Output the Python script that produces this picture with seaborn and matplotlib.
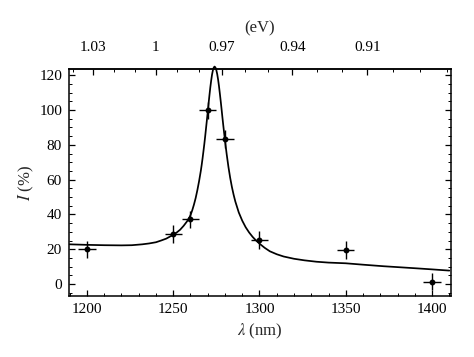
import numpy as np
import pandas as pd
import matplotlib
matplotlib.use("Agg")
import matplotlib.pyplot as plt
from matplotlib.ticker import MultipleLocator, FixedLocator
import seaborn as sns

# measured points
wavelength = [1200, 1250, 1260, 1270, 1280, 1300, 1350, 1400]
intensity = [20.0, 28.7, 37.2, 99.8, 83.3, 25.2, 19.5, 1.4]
x_err = [5, 5, 5, 5, 5, 5, 5, 5]
y_err = [5, 5, 5, 5, 5, 5, 5, 5]

# fitted curve
curve_x = [1190, 1200, 1210, 1220, 1226, 1232, 1236, 1240, 1243, 1246, 1250,
           1252, 1254, 1256, 1258, 1259, 1260, 1261, 1262, 1263, 1264, 1265,
           1266, 1266.5, 1267, 1267.5, 1268, 1268.5, 1269, 1269.5, 1270,
           1270.5, 1271, 1271.5, 1272, 1272.5, 1273, 1273.5, 1274, 1274.5,
           1275, 1275.5, 1276, 1276.5, 1277, 1277.5, 1278, 1278.5, 1279,
           1279.5, 1280, 1281, 1282, 1283, 1284, 1285, 1286, 1288, 1290,
           1292, 1294, 1296, 1298, 1300, 1303, 1306, 1310, 1314, 1320, 1326,
           1333, 1340, 1350, 1360, 1372, 1380, 1391, 1400, 1410]
curve_y = [22.8, 22.5, 22.3, 22.2, 22.3, 22.8, 23.3, 24.0, 25.0, 26.1, 28.3,
           29.6, 31.2, 33.4, 36.0, 37.6, 39.5, 42.3, 45.6, 49.4, 54.0, 59.2,
           65.1, 68.5, 72.2, 76.2, 80.3, 84.7, 89.4, 94.1, 99.0,
           103.9, 108.6, 113.1, 117.0, 120.4, 122.9, 124.5, 125.0, 124.4,
           122.9, 120.6, 117.6, 113.9, 109.7, 105.3, 100.7, 95.9, 91.3,
           86.9, 82.4, 74.5, 67.3, 61.1, 55.8, 51.3, 47.4, 41.1, 36.4,
           32.6, 29.6, 27.1, 25.0, 23.2, 20.8, 18.8, 17.1, 15.8, 14.5, 13.6,
           12.8, 12.3, 11.9, 11.1, 10.2, 9.7, 9.0, 8.4, 7.7]

# top axis tick labels (eV)
ev_ticks = [1.03, 1.0, 0.97, 0.94, 0.91]
ev_labels = ["1.03", "1", "0.97", "0.94", "0.91"]

sns.set_theme(style="ticks")
plt.rcParams["font.family"] = ["Liberation Serif", "DejaVu Serif"]
plt.rcParams["mathtext.fontset"] = "stix"

fig = plt.figure(figsize=(4.74, 3.57), dpi=100)
ax = fig.add_axes([0.1456, 0.1709, 0.8059, 0.6358])

curve = pd.DataFrame({"x": curve_x, "y": curve_y})
pts = pd.DataFrame({"x": wavelength, "y": intensity})

sns.lineplot(data=curve, x="x", y="y", ax=ax, color="black", lw=1.25,
             clip_on=False, zorder=3, sort=False)
ax.errorbar(wavelength, intensity, xerr=x_err, yerr=y_err, fmt="none",
            ecolor="black", elinewidth=1.0, capsize=0, zorder=4)
sns.scatterplot(data=pts, x="x", y="y", ax=ax, color="black", marker="o",
                s=18, edgecolor="black", linewidth=0, zorder=5)

ax.set_xlim(1189.6, 1411)
ax.set_ylim(-6.9, 123.6)
ax.xaxis.set_major_locator(MultipleLocator(50))
ax.xaxis.set_minor_locator(MultipleLocator(10))
ax.yaxis.set_major_locator(MultipleLocator(20))
ax.yaxis.set_minor_locator(MultipleLocator(5))
ax.tick_params(which="both", direction="in", top=False, right=True,
               labelsize=11, colors="black", pad=5)
ax.tick_params(which="major", length=4, width=0.9)
ax.tick_params(which="minor", length=2, width=0.7)

hc = 1239.84
sec = ax.secondary_xaxis("top", functions=(lambda l: hc / np.asarray(l, float),
                                             lambda e: hc / np.asarray(e, float)))
sec.xaxis.set_major_locator(FixedLocator(ev_ticks))
sec.set_xticklabels(ev_labels)
sec.xaxis.set_minor_locator(FixedLocator(list(np.round(np.arange(0.88, 1.05, 0.01), 2))))
sec.tick_params(which="both", direction="in", labelsize=11, colors="black", pad=11)
sec.tick_params(which="major", length=4, width=0.9)
sec.tick_params(which="minor", length=2, width=0.7)
sec.set_xlabel("(eV)", fontsize=12, labelpad=6)

for sp in ax.spines.values():
    sp.set_visible(True)
    sp.set_color("black")
    sp.set_linewidth(1.1)

ax.set_xlabel(r"$\lambda$ (nm)", fontsize=12, labelpad=4)
ax.set_ylabel(r"$I$ (%)", fontsize=12, labelpad=2)

fig.savefig("out.png", dpi=100)
